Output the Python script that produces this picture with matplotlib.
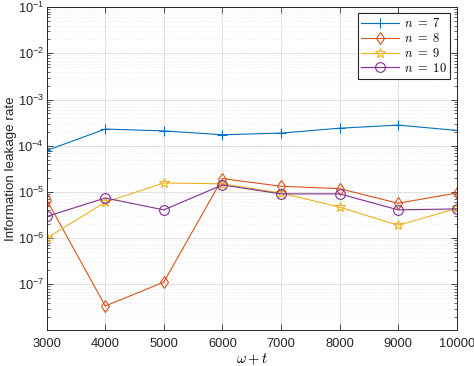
import numpy as np
import matplotlib
matplotlib.use('Agg')
import matplotlib.pyplot as plt
from matplotlib.ticker import LogLocator, NullFormatter
from matplotlib.font_manager import FontProperties

plt.rcParams['font.family'] = ['Liberation Sans', 'DejaVu Sans']
plt.rcParams['mathtext.fontset'] = 'custom'
plt.rcParams['mathtext.rm'] = 'Liberation Sans'
plt.rcParams['mathtext.it'] = 'Liberation Sans:italic'
plt.rcParams['mathtext.bf'] = 'Liberation Sans:bold'

# data
x = [3000, 4000, 5000, 6000, 7000, 8000, 9000, 10000]
n7 = [7.9e-5, 2.3e-4, 2.1e-4, 1.73e-4, 1.88e-4, 2.4e-4, 2.8e-4, 2.15e-4]
n8 = [6.8e-6, 3.4e-8, 1.12e-7, 1.95e-5, 1.33e-5, 1.18e-5, 5.7e-6, 9.5e-6]
n9 = [1.0e-6, 6.0e-6, 1.57e-5, 1.5e-5, 9.5e-6, 4.7e-6, 1.9e-6, 4.4e-6]
n10 = [2.95e-6, 7.4e-6, 4.1e-6, 1.42e-5, 9.1e-6, 9.1e-6, 4.1e-6, 4.3e-6]
labels = ['$n\\ =\\ 7$', '$n\\ =\\ 8$', '$n\\ =\\ 9$', '$n\\ =\\ 10$']

colors = ['#0072BD', '#D95319', '#EDB120', '#7E2F8E']
markers = ['+', 'd', '*', 'o']
msizes = [7, 6, 7, 7]

fig = plt.figure(figsize=(4.74, 3.66), dpi=100)
ax = fig.add_axes([0.0985, 0.0984, 0.865, 0.882])

for y, lab, c, m, ms in zip([n7, n8, n9, n10], labels, colors, markers, msizes):
    ax.plot(x, y, color=c, marker=m, markersize=ms, markerfacecolor='none',
            markeredgewidth=0.8, linewidth=0.8, label=lab)

ax.set_yscale('log')
ax.set_xlim(3000, 10000)
ax.set_ylim(1.03e-8, 1e-1)
ax.set_xticks(x)
ax.yaxis.set_major_locator(LogLocator(base=10, numticks=20))
ax.yaxis.set_minor_locator(LogLocator(base=10, subs=np.arange(2, 10), numticks=20))
ax.yaxis.set_minor_formatter(NullFormatter())

ax.grid(True, which='major', color='#dcdcdc', linewidth=0.6)
ax.grid(True, which='minor', axis='y', color='#e6e6e6', linewidth=0.5, linestyle=':')
ax.set_axisbelow(True)

ax.tick_params(which='both', direction='in', top=True, right=True,
               colors='#262626', labelsize=9.3)
ax.tick_params(which='major', length=4, width=0.6)
ax.tick_params(axis='x', pad=6)
ax.tick_params(axis='y', pad=2)
ax.tick_params(which='minor', length=2, width=0.5)
for s in ax.spines.values():
    s.set_color('#262626')
    s.set_linewidth(0.7)

cm_font = FontProperties(size=10.5, math_fontfamily='cm')
ax.set_xlabel(r'$\omega+t$', fontproperties=cm_font, labelpad=1)
ax.set_ylabel('Information leakage rate', fontsize=9.6, color='#262626', labelpad=0)

leg = ax.legend(loc='upper right', prop=FontProperties(size=9, math_fontfamily='cm'),
                fancybox=False, framealpha=1,
                edgecolor='#262626', borderpad=0.3, labelspacing=0.15,
                handlelength=3.0, handletextpad=0.4, borderaxespad=0.5)
leg.get_frame().set_linewidth(0.8)

fig.savefig('out.png', dpi=100)
